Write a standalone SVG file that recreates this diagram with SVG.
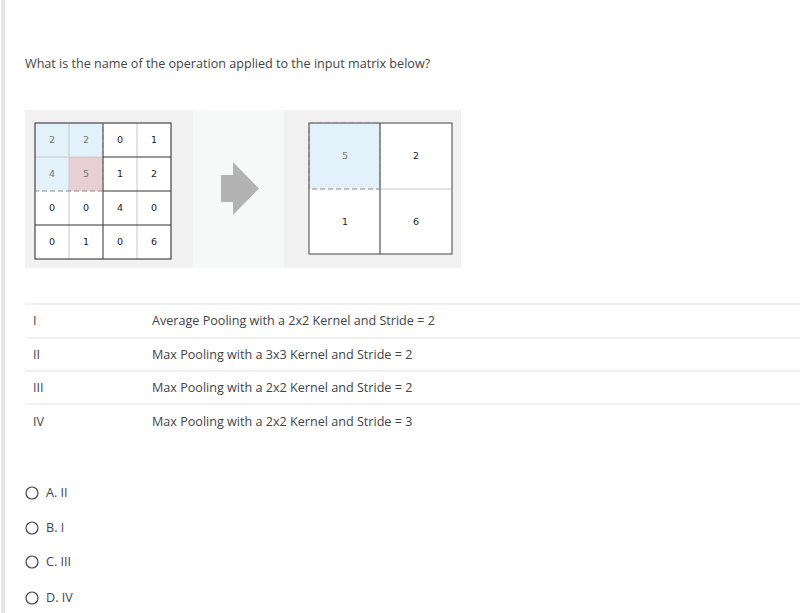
<svg xmlns="http://www.w3.org/2000/svg" width="800" height="613" viewBox="0 0 800 613">
<style>
.t{font-family:"Open Sans","Noto Sans",sans-serif;font-size:12.6px;fill:#444}
.d{font-family:"DejaVu Sans","Liberation Sans",sans-serif;font-size:9.5px;fill:#222;text-anchor:middle}
.dl{fill:#777}
.lt{stroke:#c8c8c8;stroke-width:1}
.dk{stroke:#333;stroke-width:1}
.ds{fill:none;stroke:#888;stroke-width:1.2;stroke-dasharray:5,3}
.sep{stroke:#e2e2e2;stroke-width:1}
.rad{fill:#fff;stroke:#444;stroke-width:1.2}
</style>
<rect width="800" height="613" fill="#fff"/>
<rect x="1" y="0" width="4" height="613" fill="#e4e4e4"/>
<text class="t" x="25" y="68">What is the name of the operation applied to the input matrix below?</text>
<g id="figure">
<rect x="25" y="110" width="168" height="158" fill="#f0f1f0"/>
<rect x="193" y="110" width="91" height="158" fill="#f7f9f9"/>
<rect x="284" y="110" width="177" height="158" fill="#f0f1f0"/>
<g id="input-matrix">
<rect x="35" y="123" width="136" height="136" fill="#fff"/>
<rect x="35" y="123" width="68" height="68" fill="#e3f2fa"/>
<rect x="69" y="157" width="34" height="34" fill="#e8cfd3"/>
<line class="lt" x1="69" y1="123" x2="69" y2="259"/>
<line class="lt" x1="137" y1="123" x2="137" y2="259"/>
<line class="lt" x1="35" y1="157" x2="103" y2="157"/>
<line class="dk" x1="103" y1="157" x2="171" y2="157"/>
<line class="dk" x1="103" y1="191" x2="171" y2="191"/>
<line class="dk" x1="35" y1="225" x2="171" y2="225"/>
<line class="dk" x1="103" y1="123" x2="103" y2="259"/>
<rect x="35" y="123" width="136" height="136" fill="none" stroke="#222" stroke-width="1"/>
<rect class="ds" x="35" y="123" width="68" height="68"/>
<text class="d dl" x="52" y="143">2</text><text class="d dl" x="86" y="143">2</text><text class="d" x="120" y="143">0</text><text class="d" x="154" y="143">1</text>
<text class="d dl" x="52" y="177">4</text><text class="d dl" x="86" y="177">5</text><text class="d" x="120" y="177">1</text><text class="d" x="154" y="177">2</text>
<text class="d" x="52" y="211">0</text><text class="d" x="86" y="211">0</text><text class="d" x="120" y="211">4</text><text class="d" x="154" y="211">0</text>
<text class="d" x="52" y="245">0</text><text class="d" x="86" y="245">1</text><text class="d" x="120" y="245">0</text><text class="d" x="154" y="245">6</text>
</g>
<g id="arrow">
<polygon points="221,175 233,175 233,162 259,188.5 233,215 233,202 221,202" fill="#b3b3b3"/>
</g>
<g id="output-matrix">
<rect x="309" y="123" width="143" height="131" fill="#fff"/>
<rect x="309" y="123" width="71" height="66" fill="#e3f2fa"/>
<line class="lt" x1="380" y1="189" x2="452" y2="189"/>
<line class="dk" x1="380" y1="123" x2="380" y2="254"/>
<rect x="309" y="123" width="143" height="131" fill="none" stroke="#444" stroke-width="1"/>
<rect class="ds" x="309" y="123" width="71" height="66"/>
<text class="d dl" x="345" y="159">5</text><text class="d" x="416" y="159">2</text>
<text class="d" x="345" y="225">1</text><text class="d" x="416" y="225">6</text>
</g>
</g>
<g id="table">
<line class="sep" x1="25" y1="304" x2="800" y2="304"/>
<line class="sep" x1="25" y1="338" x2="800" y2="338"/>
<line class="sep" x1="25" y1="371" x2="800" y2="371"/>
<line class="sep" x1="25" y1="404" x2="800" y2="404"/>
<text class="t" x="33" y="325">I</text><text class="t" x="152" y="325">Average Pooling with a 2x2 Kernel and Stride = 2</text>
<text class="t" x="33" y="359">II</text><text class="t" x="152" y="359">Max Pooling with a 3x3 Kernel and Stride = 2</text>
<text class="t" x="33" y="392">III</text><text class="t" x="152" y="392">Max Pooling with a 2x2 Kernel and Stride = 2</text>
<text class="t" x="33" y="426">IV</text><text class="t" x="152" y="426">Max Pooling with a 2x2 Kernel and Stride = 3</text>
</g>
<g id="options">
<circle class="rad" cx="32" cy="493" r="6"/><text class="t" x="46" y="497">A. II</text>
<circle class="rad" cx="32" cy="528" r="6"/><text class="t" x="46" y="532">B. I</text>
<circle class="rad" cx="32" cy="562" r="6"/><text class="t" x="46" y="566">C. III</text>
<circle class="rad" cx="32" cy="598" r="6"/><text class="t" x="46" y="602">D. IV</text>
</g>
</svg>
